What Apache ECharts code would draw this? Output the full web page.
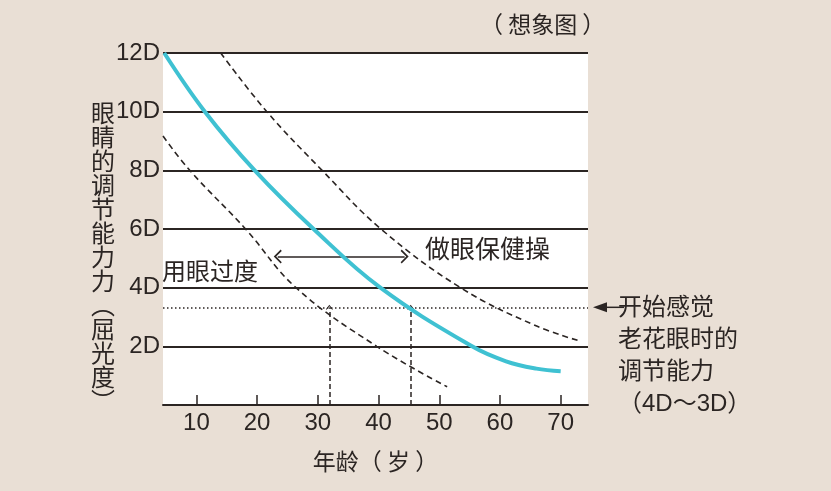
<!DOCTYPE html>
<html>
<head>
<meta charset="utf-8">
<script src="https://cdn.jsdelivr.net/npm/echarts@6/dist/echarts.min.js"></script>
<style>
  html, body { margin: 0; padding: 0; background: #e9dfd5; }
  #chart { width: 831px; height: 491px; }
</style>
</head>
<body>
<div id="chart"></div>
<script>
// 年龄 / 调节能力(D)
var ageTicks = [10, 20, 30, 40, 50, 60, 70];
var normalCurve = [[4.7, 12], [11.4, 10], [19.6, 8], [29.3, 6], [40.3, 4], [55.4, 2], [61, 1.49], [66, 1.24], [70, 1.15]];
var exerciseCurve = [[14, 12], [21.6, 10], [30.7, 8], [40.4, 6], [53.5, 4], [65.6, 2.73], [73, 2.19]];
var overuseCurve = [[4.5, 9.17], [8.9, 8], [18.1, 6], [26.4, 4], [39.7, 2], [51.3, 0.62]];
var presbyopiaLevel = 3.33;
var onsetAges = [31.9, 45.3];
var arrowSpan = [23.4, 44.3];
var arrowLevel = 5.06;

var FONT = "'Liberation Sans', 'Noto Sans CJK SC', sans-serif";
var CJK = "'Noto Sans CJK SC', sans-serif";
var INK = '#2b2523';
// 空心箭头 (朝上, markLine 会自己旋转)
var CHEVRON = 'path://M0,10 L10,0 L20,10 L18,11.5 L10,3.5 L2,11.5 Z';

var chart = echarts.init(document.getElementById('chart'));

var option = {
    backgroundColor: '#e9dfd5',
    animation: false,
    grid: {
        left: 163, top: 53, width: 425, height: 352,
        show: true, backgroundColor: '#fff', borderWidth: 0
    },
    xAxis: {
        type: 'value',
        min: 4.5,
        max: 74.5,
        name: '年龄（ 岁 ）',
        nameLocation: 'middle',
        nameGap: 45,
        nameTextStyle: { fontFamily: CJK, fontSize: 23, color: INK },
        axisLine: { lineStyle: { color: INK, width: 2 } },
        axisTick: { show: true, inside: true, length: 10, customValues: ageTicks, lineStyle: { color: INK, width: 1.5 } },
        axisLabel: { customValues: ageTicks, fontFamily: FONT, fontSize: 24, color: INK, margin: 6 },
        splitLine: { show: false }
    },
    yAxis: {
        type: 'value',
        min: 0,
        max: 12,
        interval: 2,
        axisLine: { show: false },
        axisTick: { show: false },
        axisLabel: {
            fontFamily: FONT, fontSize: 24, color: INK, margin: 3,
            formatter: function (v) { return v === 0 ? '' : v + 'D'; }
        },
        splitLine: { lineStyle: { color: INK, width: 2 } }
    },
    series: [
        {
            name: 'normal', type: 'line', data: normalCurve, smooth: 0.4,
            symbol: 'none', z: 5,
            lineStyle: { color: '#3fc1d2', width: 4 }
        },
        {
            name: 'exercise', type: 'line', data: exerciseCurve, smooth: 0.4,
            symbol: 'none',
            lineStyle: { color: INK, width: 1.6, type: [6, 4] }
        },
        {
            name: 'overuse', type: 'line', data: overuseCurve, smooth: 0.4,
            symbol: 'none',
            lineStyle: { color: INK, width: 1.6, type: [6, 4] }
        },
        {
            name: 'marks', type: 'line', data: [],
            markLine: {
                silent: true,
                label: { show: false },
                data: [
                    [
                        { coord: [4.5, presbyopiaLevel], symbol: 'none' },
                        { coord: [74.5, presbyopiaLevel], symbol: 'none', lineStyle: { type: [1.5, 2.5], width: 1.5, color: INK } }
                    ],
                    [
                        { coord: [onsetAges[0], 0], symbol: 'none' },
                        { coord: [onsetAges[0], presbyopiaLevel], symbol: CHEVRON, symbolSize: [7, 5], lineStyle: { type: [5, 3], width: 1.5, color: INK } }
                    ],
                    [
                        { coord: [onsetAges[1], 0], symbol: 'none' },
                        { coord: [onsetAges[1], presbyopiaLevel], symbol: CHEVRON, symbolSize: [7, 5], lineStyle: { type: [5, 3], width: 1.5, color: INK } }
                    ],
                    [
                        { coord: [arrowSpan[0], arrowLevel], symbol: CHEVRON, symbolSize: [14, 8] },
                        { coord: [arrowSpan[1], arrowLevel], symbol: CHEVRON, symbolSize: [14, 8], lineStyle: { type: 'solid', width: 1.5, color: INK } }
                    ]
                ]
            }
        }
    ]
};
chart.setOption(option);

// 右侧箭头跟虚线高度对齐
var end = chart.convertToPixel({ gridIndex: 0 }, [74.5, presbyopiaLevel]);
var ax = end[0] + 5, ay = end[1];

chart.setOption({
    graphic: [
        { type: 'polygon', shape: { points: [[ax, ay], [ax + 14, ay - 5], [ax + 14, ay + 5]] }, style: { fill: INK } },
        { type: 'line', shape: { x1: ax + 12, y1: ay, x2: ax + 31, y2: ay }, style: { stroke: INK, lineWidth: 1.5 } },
        {
            type: 'text', left: 618, top: ay - 15,
            style: { text: '开始感觉\n老花眼时的\n调节能力\n（4D～3D）', font: '24px ' + FONT, fill: INK, lineHeight: 32 }
        },
        {
            type: 'text', x: 103, y: 101,
            style: { text: '眼\n睛\n的\n调\n节\n能\n力\n力\n︵\n屈\n光\n度\n︶', font: '24px ' + CJK, fill: INK, lineHeight: 24, align: 'center' }
        },
        { type: 'text', left: 480, top: 13, style: { text: '（ 想象图 ）', font: '23px ' + CJK, fill: INK } },
        { type: 'text', left: 162, top: 259, style: { text: '用眼过度', font: '24px ' + CJK, fill: INK } },
        { type: 'text', left: 425, top: 236, style: { text: '做眼保健操', font: '25px ' + CJK, fill: INK } }
    ]
});
</script>
</body>
</html>
